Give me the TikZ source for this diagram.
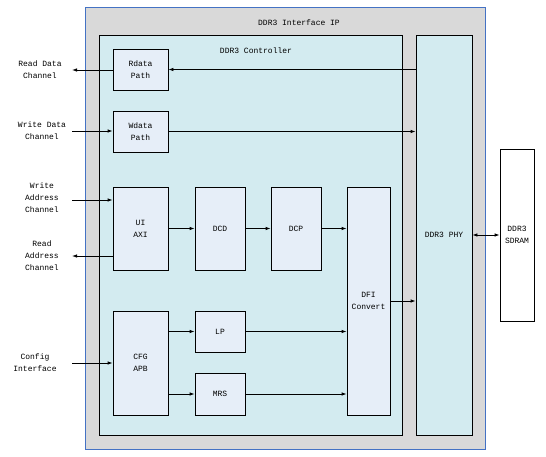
\documentclass[tikz,border=0pt]{standalone}
\usepackage{fontspec}
\setmonofont{Liberation Mono}
\usepackage{tikz}
\usetikzlibrary{arrows.meta,positioning}
\definecolor{ipgrey}{HTML}{D9D9D9}
\definecolor{ipblue}{HTML}{4472C4}
\definecolor{ctrlcyan}{HTML}{D3EBF0}
\definecolor{blkfill}{HTML}{E6EEF8}
\tikzset{
  txt/.style={font=\ttfamily\fontsize{8}{12}\selectfont, align=center, inner sep=0pt},
  blk/.style={draw, line width=0.8pt, fill=blkfill, inner sep=0pt, txt},
  sig/.style={line width=0.8pt, -{Latex[length=5pt,width=3.5pt]}}
}

\begin{document}
\begin{tikzpicture}[x=1pt,y=-1pt]
\useasboundingbox (0,0) rectangle (546,456);
% outer IP and big blocks
\node [draw=ipblue, fill=ipgrey, line width=0.8pt, minimum width=400, minimum height=442] (ip) at (285,228) {};
\node [draw, fill=ctrlcyan, line width=0.8pt, minimum width=303, minimum height=400] (ctrl) at (250.5,235) {};
\node [blk, fill=ctrlcyan, minimum width=56, minimum height=400] (phy) at (444,235) {DDR3 PHY};
\node [blk, fill=white, minimum width=34, minimum height=172] (sdram) at (517,235) {DDR3\\SDRAM};
\node [txt] (iptitle) at (299,23) {DDR3 Interface IP};
\node [txt] (ctrltitle) at (256,51) {DDR3 Controller};
% controller blocks
\node [blk, minimum width=55, minimum height=41] (rdata) at (140.5,69.5) {Rdata\\Path};
\node [blk, minimum width=55, minimum height=41] (wdata) at (140.5,131.5) {Wdata\\Path};
\node [blk, minimum width=55, minimum height=83] (ui) at (140.5,228.5) {UI\\AXI};
\node [blk, minimum width=50, minimum height=83] (dcd) at (220,228.5) {DCD};
\node [blk, minimum width=50, minimum height=83] (dcp) at (296,228.5) {DCP};
\node [blk, minimum width=43, minimum height=228] (dfi) at (368.5,301) {DFI\\Convert};
\node [blk, minimum width=55, minimum height=104] (cfg) at (140.5,363) {CFG\\APB};
\node [blk, minimum width=50, minimum height=41] (lp) at (220,331.5) {LP};
\node [blk, minimum width=50, minimum height=42] (mrs) at (220,394) {MRS};
% external channels
\node [txt] (rdch) at (40,70) {Read Data\\Channel};
\node [txt] (wdch) at (42,131) {Write Data\\Channel};
\node [txt] (wach) at (42,198) {Write\\Address\\Channel};
\node [txt] (rach) at (42,256) {Read\\Address\\Channel};
\node [txt] (cfgif) at (35,363) {Config\\Interface};
\coordinate (rdend) at (72,70);
\coordinate (wdend) at (72,131);
\coordinate (waend) at (72,200);
\coordinate (raend) at (72,256);
\coordinate (cfend) at (72,363);
% connections
\draw [sig] (rdata.west |- rdend) -- (rdend);
\draw [sig] (phy.west |- rdata.east) -- (rdata.east);
\draw [sig] (wdend) -- (wdend -| wdata.west);
\draw [sig] (wdata.east) -- (wdata.east -| phy.west);
\draw [sig] (waend) -- (waend -| ui.west);
\draw [sig] (raend -| ui.west) -- (raend);
\draw [sig] (ui.east) -- (dcd.west);
\draw [sig] (dcd.east) -- (dcp.west);
\draw [sig] (dcp.east) -- (dcp.east -| dfi.west);
\draw [sig] (dfi.east) -- (dfi.east -| phy.west);
\draw [sig] (lp.east) -- (lp.east -| dfi.west);
\draw [sig] (mrs.east) -- (mrs.east -| dfi.west);
\draw [sig] (cfg.east |- lp.west) -- (lp.west);
\draw [sig] (cfg.east |- mrs.west) -- (mrs.west);
\draw [sig] (cfend) -- (cfg.west);
\draw [sig, {Latex[length=5pt,width=3.5pt]}-{Latex[length=5pt,width=3.5pt]}] (phy.east) -- (sdram.west);
\end{tikzpicture}
\end{document}
